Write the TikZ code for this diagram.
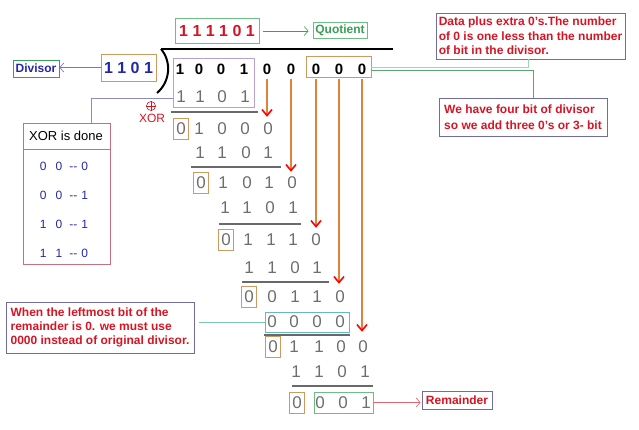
\documentclass[tikz,border=0pt]{standalone}
\usepackage{fontspec}
\setmainfont{Liberation Sans}
\usetikzlibrary{arrows.meta}
\definecolor{qred}{RGB}{215,20,35}
\definecolor{qgreen}{RGB}{55,160,85}
\definecolor{bgreen}{RGB}{110,190,130}
\definecolor{dblue}{RGB}{35,40,170}
\definecolor{tanb}{RGB}{205,155,95}
\definecolor{purb}{RGB}{185,160,205}
\definecolor{dgray}{RGB}{110,110,110}
\definecolor{ruleg}{RGB}{105,105,105}
\definecolor{orng}{RGB}{222,130,60}
\definecolor{tealb}{RGB}{100,185,195}
\definecolor{slate}{RGB}{110,110,165}
\definecolor{pinkb}{RGB}{200,110,130}
\definecolor{lgreen}{RGB}{160,215,175}
\definecolor{mgreen}{RGB}{90,165,115}
\definecolor{plinec}{RGB}{140,140,195}
\definecolor{tlinec}{RGB}{120,200,180}
\definecolor{rlinec}{RGB}{225,100,110}
\definecolor{divarr}{RGB}{115,115,200}
\newcommand\drow[4]{\foreach \xx/\vv [count=\i] in {#4} \node[#1] (#2d\i) at (\xx,#3) {\vv};}
\begin{document}
\begin{tikzpicture}[x=1pt,y=-1pt,
  lbl/.style={font=\fontsize{12}{14.5}\selectfont\bfseries, inner sep=0pt},
  bx/.style={draw, line width=0.8pt, inner sep=0pt},
  dg/.style={font=\fontsize{17}{20}\selectfont, text=dgray, inner sep=0pt},
  dd/.style={font=\fontsize{15}{18}\selectfont\bfseries, inner sep=0pt},
  rulel/.style={ruleg, line width=2pt},
  oarrow/.style={orng, line width=2pt, -{Straight Barb[color=red,length=6pt,width=10pt,line width=1.6pt]}},
  tarr/.style={line width=0.6pt, -{Straight Barb[length=4pt,width=9pt]}},
  obox/.style={bx, draw=tanb, minimum width=15pt, minimum height=21pt}]
\useasboundingbox (0,0) rectangle (639,430);

% quotient
\node[bx, draw=bgreen, minimum width=84pt, minimum height=25pt, font=\fontsize{16}{18}\selectfont\bfseries, text=qred] (qbox) at (217,31) {1 1 1 1 0 1};
\node[bx, draw=bgreen, lbl, text=qgreen, minimum width=54pt, minimum height=16pt] (qlab) at (340,30) {Quotient};
\draw[qgreen, tarr, shorten <=4pt, shorten >=4pt] (qbox.east) -- (qbox.east -| qlab.west);

% divisor
\node[bx, draw=tanb, minimum width=55pt, minimum height=27pt, font=\fontsize{16}{18}\selectfont\bfseries, text=dblue] (dbox) at (128.5,67.5) {1 1 0 1};
\node[bx, draw=qgreen, lbl, text=dblue, minimum width=46pt, minimum height=17pt] (dlab) at (36,68.5) {Divisor};
\draw[divarr, tarr] (dbox.west) -- (dbox.west -| dlab.east);

% division bar and bracket
\draw[line width=2pt] (161,49) -- (393,49);
\draw[line width=2pt] (161,49) .. controls (172,62) and (170,82) .. (157,93);

% dividend
\drow{dd}{r0}{69}{180/1,199/0,221/0,244/1,267/0,291/0,316/0,339/0,362/0}
\node[bx, draw=purb, minimum width=81pt, minimum height=49pt] (pbox) at (213.5,82.5) {};
\node[bx, draw=tanb, minimum width=65pt, minimum height=21pt] (zbox) at (338.5,66.5) {};

% rows
\drow{dg}{r1}{97}{181/1,200/1,222/0,245/1}
\drow{dg}{r2}{129}{181/0,199/1,222/0,245/0,268/0}
\drow{dg}{r3}{153}{200/1,222/1,246/0,268/1}
\drow{dg}{r4}{183}{201/0,223/1,247/0,269/1,292/0}
\drow{dg}{r5}{208}{225/1,247/1,270/0,293/1}
\drow{dg}{r6}{240}{226/0,248/1,271/1,293/1,316/0}
\drow{dg}{r7}{268}{249/1,272/1,295/0,317/1}
\drow{dg}{r8}{297}{249/0,272/0,295/1,317/1,340/0}
\drow{dg}{r9}{322}{272/0,294/0,317/0,340/0}
\drow{dg}{r10}{347}{273/0,294/1,319/1,341/0,363/0}
\drow{dg}{r11}{372}{296/1,319/1,342/0,365/1}
\drow{dg}{r12}{403}{297/0,320/0,343/0,366/1}

% rules
\draw[rulel] (171,112) -- (258,112);
\draw[rulel] (191,167) -- (281,167);
\draw[rulel] (219,224) -- (301,224);
\draw[rulel] (242,282) -- (329,282);
\draw[rulel] (264,335) -- (350,335);
\draw[rulel] (292,386) -- (373,386);

% small boxes
\foreach \n in {r2d1,r4d1,r6d1,r8d1,r10d1,r12d1} \node[obox] (b-\n) at (\n) {};
\node[bx, draw=tealb, minimum width=84pt, minimum height=20pt] (tbox) at (307,322) {};
\node[bx, draw=bgreen, minimum width=59pt, minimum height=21pt] (gbox) at (343.5,402.5) {};

% orange arrows
\draw[oarrow, shorten <=4pt, shorten >=6pt] (r0d5.south) -- (r0d5.south |- r2d5.north);
\draw[oarrow, shorten <=4pt, shorten >=5pt] (r0d6.south) -- (r0d6.south |- r4d5.north);
\draw[oarrow, shorten <=4pt, shorten >=6pt] (r0d7.south) -- (r0d7.south |- r6d5.north);
\draw[oarrow, shorten <=4pt, shorten >=7pt] (r0d8.south) -- (r0d8.south |- r8d5.north);
\draw[oarrow, shorten <=4pt, shorten >=9pt] (r0d9.south) -- (r0d9.south |- r10d5.north);

% XOR
\node[circle, draw=qred, line width=0.6pt, minimum size=9pt, inner sep=0pt] (xsym) at (151,106) {};
\draw[qred, line width=0.6pt] (xsym.north) -- (xsym.south) (xsym.west) -- (xsym.east);
\node[font=\fontsize{12}{14}\selectfont, text=qred, inner sep=0pt] (xlab) at (152,118) {XOR};

% XOR table
\node[bx, draw=pinkb, anchor=north west, minimum width=87pt, minimum height=141pt] (xbox) at (23,123) {};
\draw[pinkb, line width=0.8pt] ([yshift=-26pt]xbox.north west) -- ([yshift=-26pt]xbox.north east);
\node[font=\fontsize{13}{15}\selectfont, inner sep=0pt] (xhead) at (66,136) {XOR is done};
\node[font=\fontsize{12}{14}\selectfont, text=dblue, inner sep=0pt] (t1) at (64,166) {0\hspace{9pt}0\hspace{7pt}-{}-\hspace{4pt}0};
\node[font=\fontsize{12}{14}\selectfont, text=dblue, inner sep=0pt] (t2) at (64,195) {0\hspace{9pt}0\hspace{7pt}-{}-\hspace{4pt}1};
\node[font=\fontsize{12}{14}\selectfont, text=dblue, inner sep=0pt] (t3) at (64,224) {1\hspace{9pt}0\hspace{7pt}-{}-\hspace{4pt}1};
\node[font=\fontsize{12}{14}\selectfont, text=dblue, inner sep=0pt] (t4) at (64,253) {1\hspace{9pt}1\hspace{7pt}-{}-\hspace{4pt}0};
\draw[plinec, line width=0.8pt] ([yshift=9pt]pbox.south west) -| ([xshift=24.5pt]xbox.north);

% notes
\node[bx, draw=slate, lbl, text=qred, align=left, minimum width=189pt, minimum height=46pt] (data) at (530.5,36) {Data plus extra 0's.The number\\of 0 is one less than the number\\of bit in the divisor.};
\node[bx, draw=slate, font=\fontsize{12}{15.5}\selectfont\bfseries, text=qred, align=left, minimum width=168pt, minimum height=38pt] (we) at (523,117) {We have four bit of divisor\\so we add three 0's or 3- bit};
\draw[lgreen, line width=1pt] ([yshift=-1.5pt]zbox.east) -| ([xshift=-2.5pt]data.south);
\draw[mgreen, line width=1pt] ([yshift=-4.5pt]zbox.east) -| ([xshift=10pt]we.north);

\node[bx, draw=slate, font=\fontsize{12}{14}\selectfont\bfseries, text=qred, align=left, minimum width=188pt, minimum height=51pt] (when) at (100,327.5) {When the leftmost bit of the\\remainder is 0. we must use\\0000 instead of original divisor.};
\draw[tlinec, line width=1pt, shorten >=5pt] (tbox.west) -- (tbox.west -| when.east);

\node[bx, draw=slate, lbl, text=qred, minimum width=70pt, minimum height=18pt] (rlab) at (457,400) {Remainder};
\draw[rlinec, tarr, shorten >=1pt] (gbox.east) -- (gbox.east -| rlab.west);
\end{tikzpicture}
\end{document}
